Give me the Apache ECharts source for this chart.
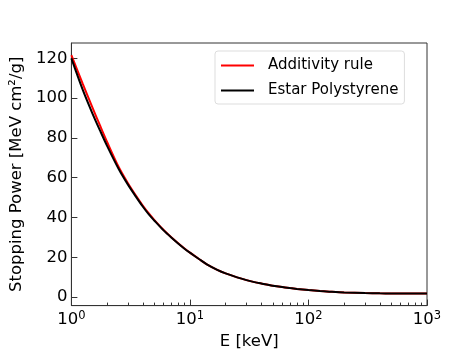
<!DOCTYPE html>
<html>
<head>
<meta charset="utf-8">
<script src="https://cdn.jsdelivr.net/npm/echarts@6/dist/echarts.min.js"></script>
<style>
html,body{margin:0;padding:0;background:#fff;}
#chart{width:474px;height:355px;}
</style>
</head>
<body>
<div id="chart"></div>
<script>
// Energies (keV)
var energies = [1, 1.25, 1.5, 1.75, 2, 2.5, 3, 3.5, 4, 4.5, 5, 6, 7, 8, 9, 10, 12, 14, 17, 20, 25, 30, 35, 40, 50, 60, 70, 80, 100, 125, 150, 200, 300, 400, 500, 700, 1000];
// Estar Polystyrene stopping power (MeV cm2/g)
var estarValues = [120, 104, 92.5, 83.5, 76, 64.5, 56.5, 50.5, 45.5, 41.5, 38.5, 33.5, 29.8, 26.8, 24.3, 22.3, 19, 16.3, 13.7, 11.9, 9.9, 8.5, 7.5, 6.8, 5.7, 5.0, 4.5, 4.1, 3.5, 3.0, 2.7, 2.3, 2.0, 1.85, 1.8, 1.78, 1.78];
// Additivity rule
var additivityValues = [121.6, 107, 95.5, 86, 78, 65.5, 57.2, 51, 46, 42, 38.8, 33.7, 29.9, 26.9, 24.4, 22.3, 19, 16.3, 13.7, 11.9, 9.9, 8.5, 7.5, 6.8, 5.7, 5.0, 4.5, 4.1, 3.5, 3.0, 2.7, 2.3, 2.0, 1.85, 1.8, 1.78, 1.78];
var yTicks = [0, 20, 40, 60, 80, 100, 120];
var xMinorTicks = [2,3,4,5,6,7,8,9,20,30,40,50,60,70,80,90,200,300,400,500,600,700,800,900];
var seriesNames = ['Additivity rule', 'Estar Polystyrene'];

function pairs(xs, ys){ return xs.map(function(x,i){ return [x, ys[i]]; }); }

var FONT = 'DejaVu Sans';
var chart = echarts.init(document.getElementById('chart'), null, {renderer:'canvas'});
chart.setOption({
  animation: false,
  backgroundColor: '#fff',
  textStyle: {fontFamily: FONT, color: '#000'},
  grid: {left: 59, right: 47, top: 43, bottom: 39, show: true, borderColor: '#333', borderWidth: 1, backgroundColor: 'transparent'},
  legend: {
    orient: 'vertical', left: 215, top: 51,
    data: seriesNames,
    icon: 'rect',
    itemWidth: 33, itemHeight: 2, itemGap: 8,
    padding: [6, 6, 5, 6],
    backgroundColor: '#fff', borderColor: '#ddd', borderWidth: 1, borderRadius: 3,
    textStyle: {fontFamily: FONT, fontSize: 15, color: '#000', lineHeight: 17, padding: [0,0,0,9]}
  },
  xAxis: [{
    type: 'log', logBase: 10, min: 1, max: 1000, interval: 1,
    name: 'E [keV]', nameLocation: 'middle', nameGap: 23,
    nameTextStyle: {fontFamily: FONT, fontSize: 16.5, color: '#000'},
    axisLine: {show: true, onZero: false, lineStyle: {color: '#333', width: 1}},
    axisTick: {show: true, inside: true, length: 6, lineStyle: {color: '#333'}},
    splitLine: {show: false},
    axisLabel: {
      margin: 4,
      formatter: function(v){ return '{b|10}{s|' + Math.round(Math.log10(v)) + '}'; },
      rich: {
        b: {fontFamily: FONT, fontSize: 16.5, color: '#000', lineHeight: 20},
        s: {fontFamily: FONT, fontSize: 11.5, color: '#000', verticalAlign: 'top', lineHeight: 12}
      }
    }
  }, {
    type: 'value', min: 0, max: 3, position: 'bottom',
    axisLine: {show: false, onZero: false},
    axisLabel: {show: false},
    splitLine: {show: false},
    axisTick: {show: true, inside: true, length: 3, lineStyle: {color: '#333'},
      customValues: xMinorTicks.map(function(v){ return Math.log10(v); })}
  }],
  yAxis: {
    type: 'value', min: -4.3, max: 127.7,
    name: 'Stopping Power [MeV cm\u00b2/g]', nameLocation: 'middle', nameGap: 43,
    nameTextStyle: {fontFamily: FONT, fontSize: 16.5, color: '#000'},
    axisLine: {show: true, onZero: false, lineStyle: {color: '#333', width: 1}},
    axisTick: {show: true, inside: true, length: 6, lineStyle: {color: '#333'}, customValues: yTicks},
    splitLine: {show: false},
    axisLabel: {margin: 4, fontFamily: FONT, fontSize: 16.5, color: '#000', customValues: yTicks}
  },
  series: [{
    name: seriesNames[0], type: 'line', xAxisIndex: 0,
    data: pairs(energies, additivityValues),
    showSymbol: false, symbol: 'none', smooth: 0.3,
    lineStyle: {color: '#ff0000', width: 2}, itemStyle: {color: '#ff0000'}
  }, {
    name: seriesNames[1], type: 'line', xAxisIndex: 0,
    data: pairs(energies, estarValues),
    showSymbol: false, symbol: 'none', smooth: 0.3,
    lineStyle: {color: '#000', width: 2}, itemStyle: {color: '#000'}
  }]
});
</script>
</body>
</html>
